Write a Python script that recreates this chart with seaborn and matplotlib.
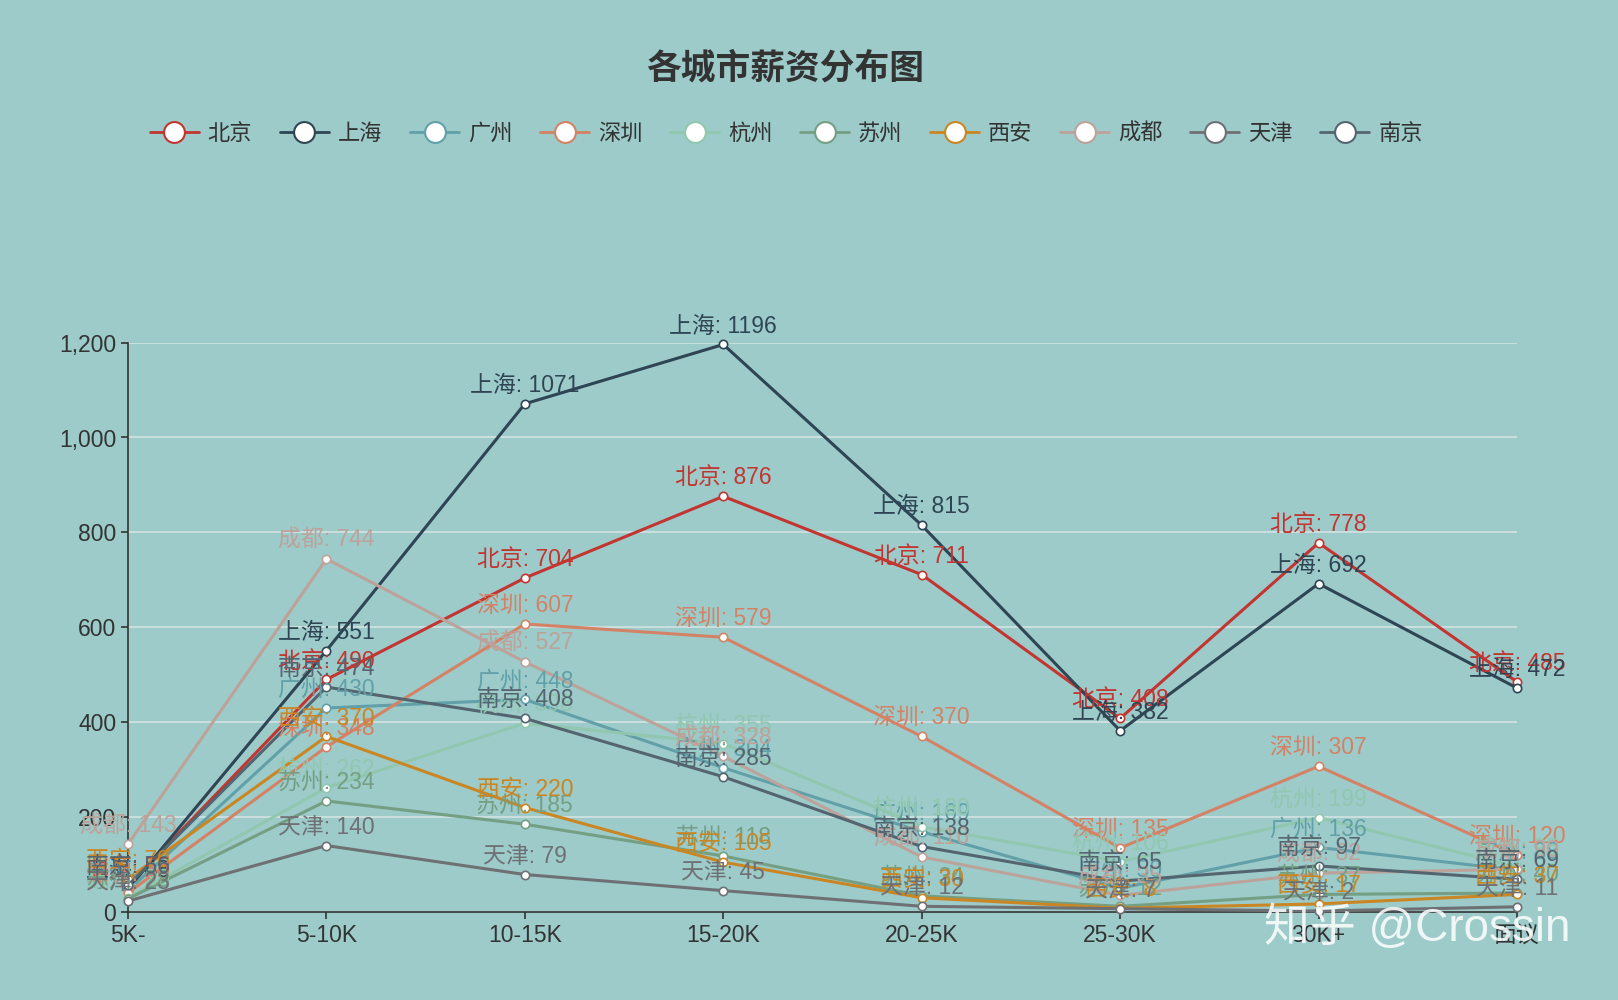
import matplotlib
matplotlib.use("Agg")
import matplotlib.pyplot as plt
from matplotlib.lines import Line2D
from matplotlib.ticker import FuncFormatter
import seaborn as sns
import pandas as pd

cats = ["5K-", "5-10K", "10-15K", "15-20K", "20-25K", "25-30K", "30K+", "面议"]
cities = ["北京", "上海", "广州", "深圳", "杭州", "苏州", "西安", "成都", "天津", "南京"]

beijing = [55, 490, 704, 876, 711, 408, 778, 485]
shanghai = [48, 551, 1071, 1196, 815, 382, 692, 472]
guangzhou = [45, 430, 448, 304, 169, 50, 136, 88]
shenzhen = [40, 348, 607, 579, 370, 135, 307, 120]
hangzhou = [30, 262, 398, 355, 180, 106, 199, 95]
suzhou = [28, 234, 185, 118, 34, 12, 37, 40]
xian = [70, 370, 220, 105, 30, 8, 17, 37]
chengdu = [143, 744, 527, 328, 116, 35, 82, 90]
tianjin = [23, 140, 79, 45, 12, 7, 2, 11]
nanjing = [56, 474, 408, 285, 138, 65, 97, 69]

series = [beijing, shanghai, guangzhou, shenzhen, hangzhou,
          suzhou, xian, chengdu, tianjin, nanjing]
colors = ["#c23531", "#2f4554", "#61a0a8", "#d48265", "#91c7ae",
          "#749f83", "#ca8622", "#bda29a", "#6e7074", "#546570"]
palette = dict(zip(cities, colors))

rows = []
for city, vals in zip(cities, series):
    for i, (c, v) in enumerate(zip(cats, vals)):
        rows.append({"city": city, "pos": i, "cat": c, "count": v})
df = pd.DataFrame(rows)

BG = "#9ccbca"
sns.set_theme(style="white")
# Latin glyphs from Liberation Sans, CJK glyphs fall back to Noto
plt.rcParams["font.family"] = ["Liberation Sans", "Noto Sans CJK SC", "DejaVu Sans"]

fig = plt.figure(figsize=(16.18, 10), dpi=100, facecolor=BG)
ax = fig.add_axes([0.0791, 0.088, 0.8585, 0.5694])
ax.set_facecolor(BG)

sns.lineplot(data=df, x="pos", y="count", hue="city", hue_order=cities,
             palette=palette, marker="o", markersize=6, linewidth=2.2,
             markerfacecolor="white", ax=ax, legend=False, zorder=3)
for ln in ax.lines:
    ln.set_markeredgecolor(ln.get_color())
    ln.set_markeredgewidth(1.2)
    ln.set_clip_on(False)

# point labels
for city, vals in zip(cities, series):
    for i, v in enumerate(vals):
        ax.annotate(f"{city}: {v}", (i, v), xytext=(0, 5),
                    textcoords="offset points", ha="center", va="bottom",
                    fontsize=16.5, color=palette[city], zorder=4,
                    annotation_clip=False)

ax.set_xlim(0, len(cats) - 1)
ax.set_ylim(0, 1200)
ax.set_xticks(range(len(cats)))
ax.set_xticklabels(cats)
ax.set_yticks(range(0, 1201, 200))
ax.yaxis.set_major_formatter(FuncFormatter(lambda v, p: f"{int(v):,}"))
ax.grid(axis="y", color="#d3e3e2", linewidth=1.2, zorder=0)
ax.set_axisbelow(True)
for s in ["top", "right"]:
    ax.spines[s].set_visible(False)
for s in ["left", "bottom"]:
    ax.spines[s].set_color("#333333")
    ax.spines[s].set_linewidth(1.2)
ax.tick_params(axis="both", which="both", length=5, width=1.2,
               color="#333333", labelsize=16.5, labelcolor="#333333",
               left=True, bottom=True)
ax.set_xlabel("")
ax.set_ylabel("")

fig.text(0.485, 0.931, "各城市薪资分布图", ha="center", va="center",
         fontsize=25, fontweight="bold", color="#333333")

handles = [Line2D([0], [0], color=c, lw=2, marker="o", markersize=15,
                  markerfacecolor="white", markeredgecolor=c,
                  markeredgewidth=1.5) for c in colors]
fig.legend(handles, cities, loc="center", bbox_to_anchor=(0.486, 0.866),
           ncol=10, frameon=False, fontsize=16, handlelength=2.2,
           handletextpad=0.4, columnspacing=1.25, labelcolor="#333333")

fig.text(0.781, 0.059, "知乎 @Crossin", ha="left", va="baseline",
         fontsize=33, color="white", alpha=0.85)

fig.savefig("out.png", dpi=100, facecolor=BG)
